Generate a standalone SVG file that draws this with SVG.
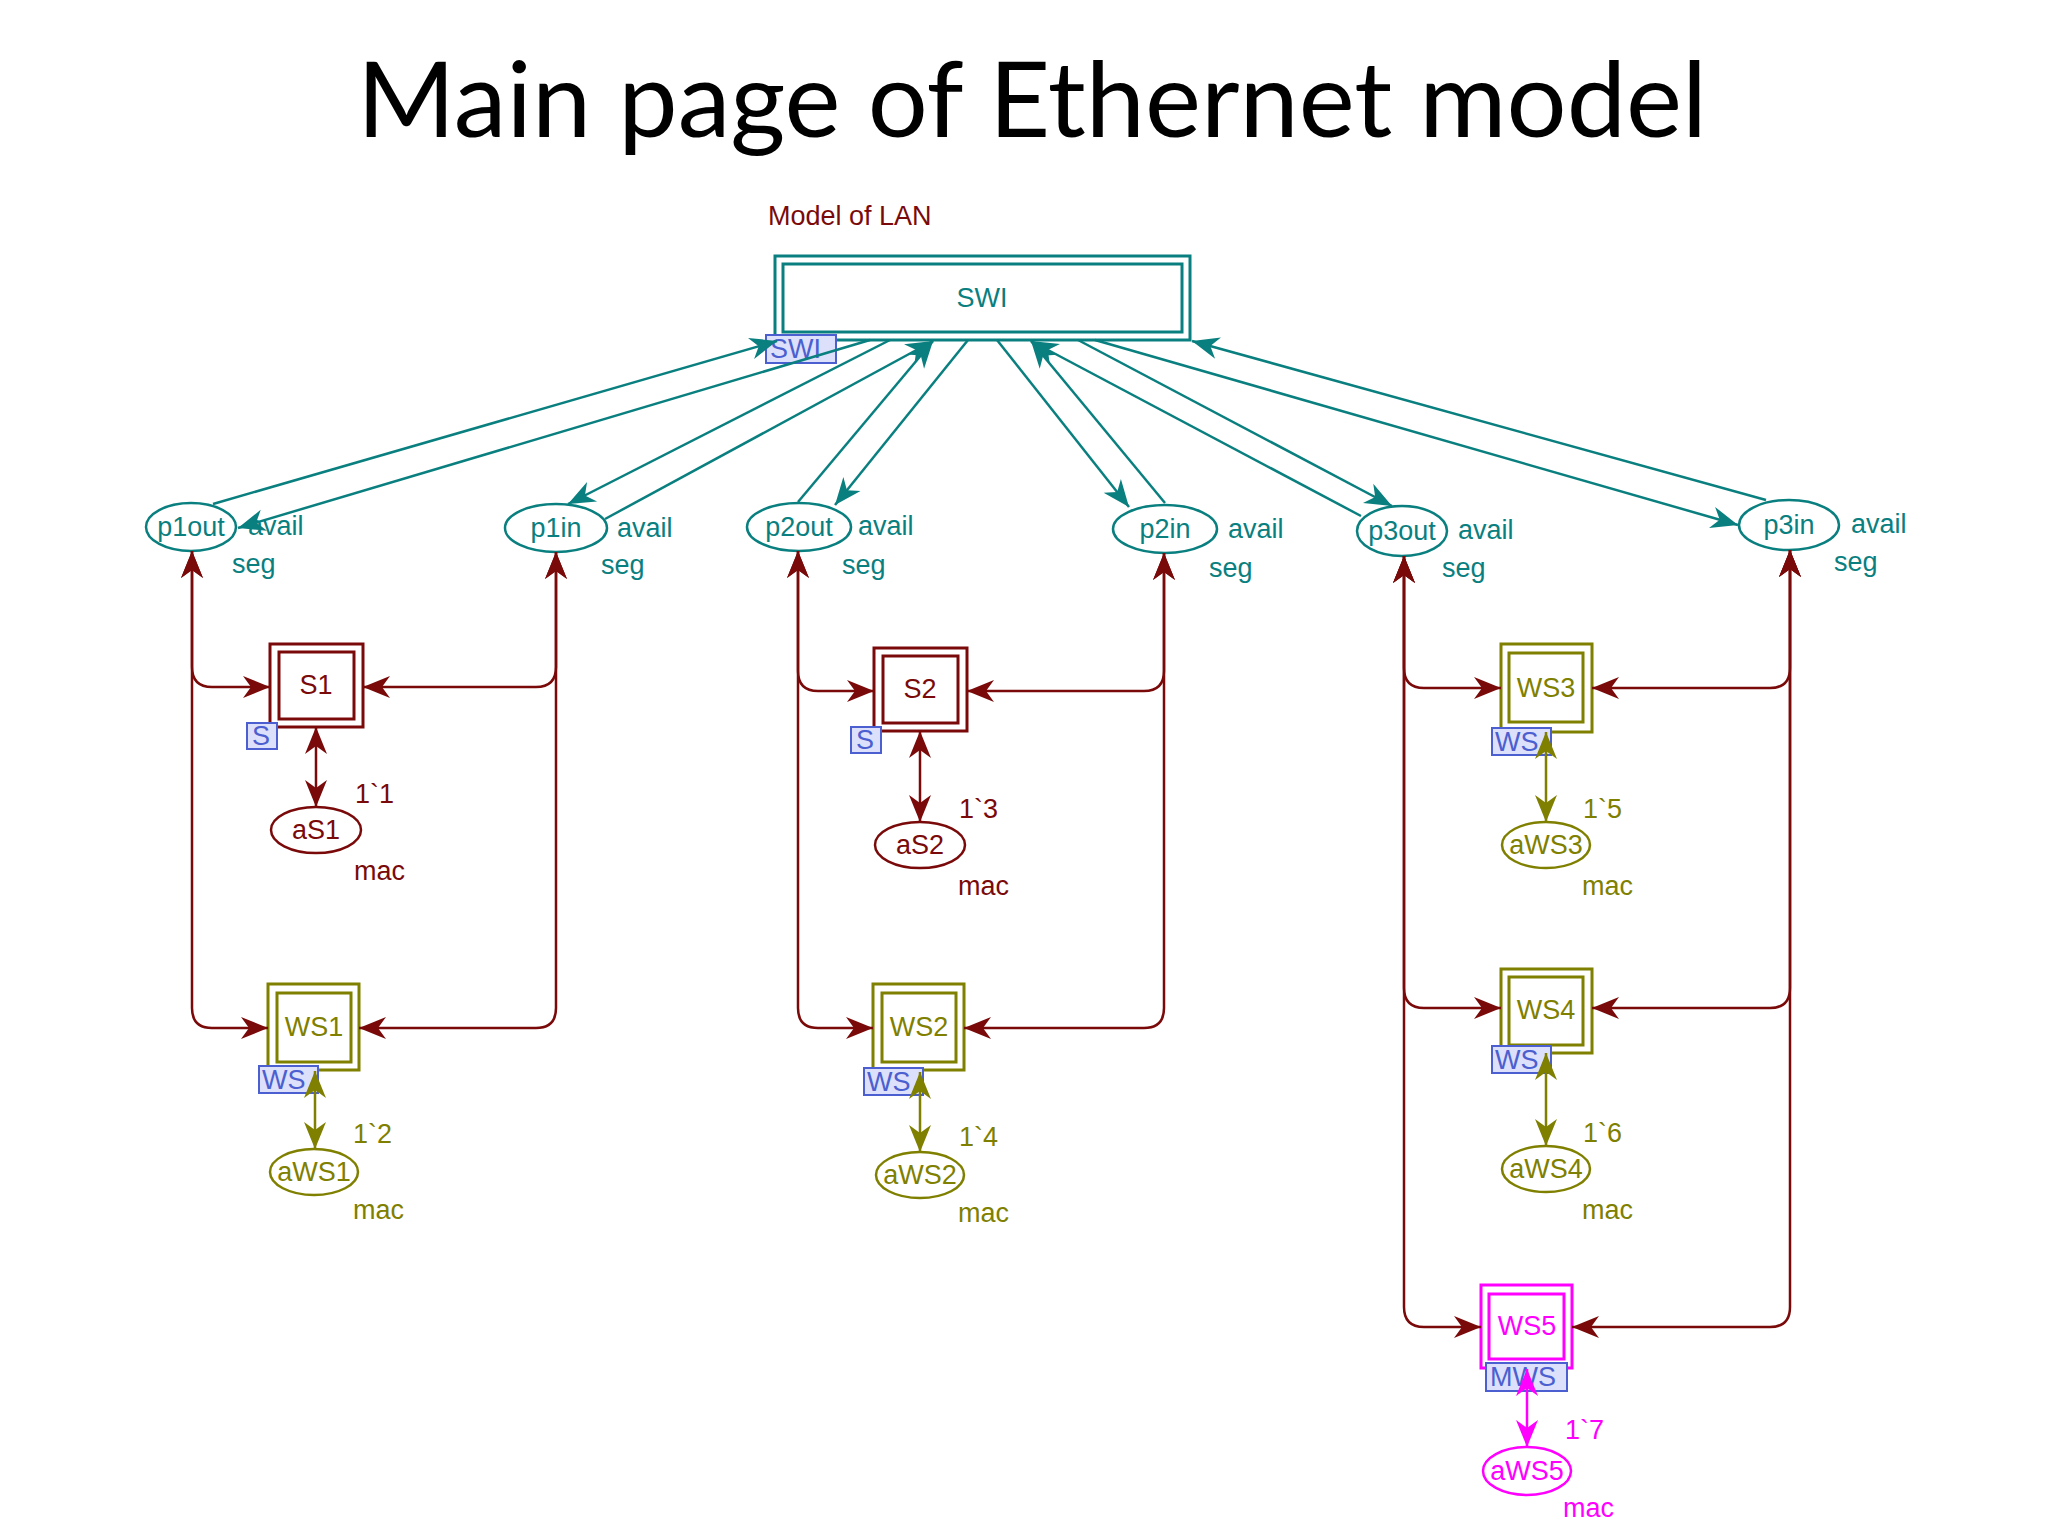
<svg xmlns="http://www.w3.org/2000/svg" width="2048" height="1536" viewBox="0 0 2048 1536">
<style>
text{font-family:"Liberation Sans",Arial,sans-serif;font-size:27px}
.title{font-family:Lato,"Open Sans",sans-serif;font-size:104px;fill:#000}
.tl{fill:#0a7f7f}.rd{fill:#7a0a0a}.ol{fill:#7f7f00}.mg{fill:#ff00ff}
.tag{fill:#dde0fa;stroke:#4b5fd0;stroke-width:2}
.tagt{fill:#4b5fd0}
.ct{text-anchor:middle}
.pl{fill:#fff;stroke:#0a7f7f;stroke-width:2.5}
.bx{fill:none;stroke-width:3}
.ta{fill:none;stroke:#0a7f7f;stroke-width:2.5;marker-end:url(#mt)}
.ra{fill:none;stroke:#7a0a0a;stroke-width:2.5;marker-start:url(#mr);marker-end:url(#mr)}
.oa{fill:none;stroke:#7f7f00;stroke-width:2.5;marker-start:url(#mo);marker-end:url(#mo)}
.ma{fill:none;stroke:#ff00ff;stroke-width:2.5;marker-start:url(#mm);marker-end:url(#mm)}
</style>
<defs>
<marker id="mt" markerUnits="userSpaceOnUse" orient="auto-start-reverse" refX="0" refY="0" markerWidth="30" markerHeight="30" overflow="visible"><path d="M0,0 L-27,-11 L-19,0 L-27,11 Z" fill="#0a7f7f"/></marker>
<marker id="mr" markerUnits="userSpaceOnUse" orient="auto-start-reverse" refX="0" refY="0" markerWidth="30" markerHeight="30" overflow="visible"><path d="M0,0 L-27,-11 L-19,0 L-27,11 Z" fill="#7a0a0a"/></marker>
<marker id="mo" markerUnits="userSpaceOnUse" orient="auto-start-reverse" refX="0" refY="0" markerWidth="30" markerHeight="30" overflow="visible"><path d="M0,0 L-27,-11 L-19,0 L-27,11 Z" fill="#7f7f00"/></marker>
<marker id="mm" markerUnits="userSpaceOnUse" orient="auto-start-reverse" refX="0" refY="0" markerWidth="30" markerHeight="30" overflow="visible"><path d="M0,0 L-27,-11 L-19,0 L-27,11 Z" fill="#ff00ff"/></marker>
</defs>
<rect width="2048" height="1536" fill="#fff"/>
<text class="title" x="1032" y="137" text-anchor="middle" textLength="1350" lengthAdjust="spacingAndGlyphs">Main page of Ethernet model</text>

<g id="SWI">
<text class="rd" x="768" y="225">Model of LAN</text>
<rect class="bx" x="775" y="256" width="415" height="84" stroke="#0a7f7f" fill="#fff"/>
<rect class="bx" x="783" y="264" width="399" height="68" stroke="#0a7f7f"/>
<text class="tl ct" x="982" y="307">SWI</text>
<rect class="tag" x="766" y="335" width="70" height="28"/>
<text class="tagt" x="770" y="358">SWI</text>
</g>

<g id="p1out"><ellipse class="pl" cx="191" cy="527" rx="45" ry="24"/><text class="tl ct" x="191" y="536">p1out</text><text class="tl" x="248" y="535">avail</text><text class="tl" x="232" y="573">seg</text></g>
<g id="p1in"><ellipse class="pl" cx="556" cy="528" rx="51" ry="24"/><text class="tl ct" x="556" y="537">p1in</text><text class="tl" x="617" y="537">avail</text><text class="tl" x="601" y="574">seg</text></g>
<g id="p2out"><ellipse class="pl" cx="799" cy="527" rx="52" ry="24"/><text class="tl ct" x="799" y="536">p2out</text><text class="tl" x="858" y="535">avail</text><text class="tl" x="842" y="574">seg</text></g>
<g id="p2in"><ellipse class="pl" cx="1165" cy="529" rx="52" ry="24"/><text class="tl ct" x="1165" y="538">p2in</text><text class="tl" x="1228" y="538">avail</text><text class="tl" x="1209" y="577">seg</text></g>
<g id="p3out"><ellipse class="pl" cx="1402" cy="531" rx="45" ry="25"/><text class="tl ct" x="1402" y="540">p3out</text><text class="tl" x="1458" y="539">avail</text><text class="tl" x="1442" y="577">seg</text></g>
<g id="p3in"><ellipse class="pl" cx="1789" cy="525" rx="50" ry="25"/><text class="tl ct" x="1789" y="534">p3in</text><text class="tl" x="1851" y="533">avail</text><text class="tl" x="1834" y="571">seg</text></g>

<g id="S1">
<rect class="bx" x="270" y="644" width="93" height="83" stroke="#7a0a0a" fill="#fff"/>
<rect class="bx" x="279" y="652" width="75" height="67" stroke="#7a0a0a"/>
<text class="rd ct" x="316" y="694">S1</text>
<rect class="tag" x="247" y="723" width="30" height="26"/><text class="tagt" x="252" y="745">S</text>
</g>
<g id="aS1"><ellipse cx="316" cy="830" rx="45" ry="23" fill="#fff" stroke="#7a0a0a" stroke-width="2.5"/><text class="rd ct" x="316" y="839">aS1</text><text class="rd" x="355" y="803">1`1</text><text class="rd" x="354" y="880">mac</text></g>

<g id="WS1">
<rect class="bx" x="268" y="984" width="91" height="86" stroke="#7f7f00" fill="#fff"/>
<rect class="bx" x="277" y="993" width="74" height="69" stroke="#7f7f00"/>
<text class="ol ct" x="314" y="1036">WS1</text>
<rect class="tag" x="259" y="1066" width="59" height="27"/><text class="tagt" x="262" y="1089">WS</text>
</g>
<g id="aWS1"><ellipse cx="314" cy="1172" rx="44" ry="23" fill="#fff" stroke="#7f7f00" stroke-width="2.5"/><text class="ol ct" x="314" y="1181">aWS1</text><text class="ol" x="353" y="1143">1`2</text><text class="ol" x="353" y="1219">mac</text></g>

<g id="S2">
<rect class="bx" x="874" y="648" width="93" height="83" stroke="#7a0a0a" fill="#fff"/>
<rect class="bx" x="883" y="656" width="75" height="67" stroke="#7a0a0a"/>
<text class="rd ct" x="920" y="698">S2</text>
<rect class="tag" x="851" y="727" width="30" height="26"/><text class="tagt" x="856" y="749">S</text>
</g>
<g id="aS2"><ellipse cx="920" cy="845" rx="45" ry="23" fill="#fff" stroke="#7a0a0a" stroke-width="2.5"/><text class="rd ct" x="920" y="854">aS2</text><text class="rd" x="959" y="818">1`3</text><text class="rd" x="958" y="895">mac</text></g>

<g id="WS2">
<rect class="bx" x="873" y="984" width="91" height="86" stroke="#7f7f00" fill="#fff"/>
<rect class="bx" x="882" y="993" width="74" height="69" stroke="#7f7f00"/>
<text class="ol ct" x="919" y="1036">WS2</text>
<rect class="tag" x="864" y="1068" width="59" height="27"/><text class="tagt" x="867" y="1091">WS</text>
</g>
<g id="aWS2"><ellipse cx="920" cy="1175" rx="44" ry="23" fill="#fff" stroke="#7f7f00" stroke-width="2.5"/><text class="ol ct" x="920" y="1184">aWS2</text><text class="ol" x="959" y="1146">1`4</text><text class="ol" x="958" y="1222">mac</text></g>

<g id="WS3">
<rect class="bx" x="1501" y="644" width="91" height="88" stroke="#7f7f00" fill="#fff"/>
<rect class="bx" x="1509" y="653" width="74" height="69" stroke="#7f7f00"/>
<text class="ol ct" x="1546" y="697">WS3</text>
<rect class="tag" x="1492" y="728" width="59" height="27"/><text class="tagt" x="1495" y="751">WS</text>
</g>
<g id="aWS3"><ellipse cx="1546" cy="845" rx="44" ry="23" fill="#fff" stroke="#7f7f00" stroke-width="2.5"/><text class="ol ct" x="1546" y="854">aWS3</text><text class="ol" x="1583" y="818">1`5</text><text class="ol" x="1582" y="895">mac</text></g>

<g id="WS4">
<rect class="bx" x="1501" y="969" width="91" height="84" stroke="#7f7f00" fill="#fff"/>
<rect class="bx" x="1509" y="977" width="74" height="68" stroke="#7f7f00"/>
<text class="ol ct" x="1546" y="1019">WS4</text>
<rect class="tag" x="1492" y="1046" width="59" height="27"/><text class="tagt" x="1495" y="1069">WS</text>
</g>
<g id="aWS4"><ellipse cx="1546" cy="1169" rx="44" ry="23" fill="#fff" stroke="#7f7f00" stroke-width="2.5"/><text class="ol ct" x="1546" y="1178">aWS4</text><text class="ol" x="1583" y="1142">1`6</text><text class="ol" x="1582" y="1219">mac</text></g>

<g id="WS5">
<rect class="bx" x="1481" y="1285" width="91" height="83" stroke="#ff00ff" fill="#fff"/>
<rect class="bx" x="1489" y="1294" width="75" height="65" stroke="#ff00ff"/>
<text class="mg ct" x="1527" y="1335">WS5</text>
<rect class="tag" x="1486" y="1363" width="81" height="28"/><text class="tagt" x="1490" y="1386">MWS</text>
</g>
<g id="aWS5"><ellipse cx="1527" cy="1471" rx="44" ry="24" fill="#fff" stroke="#ff00ff" stroke-width="2.5"/><text class="mg ct" x="1527" y="1480">aWS5</text><text class="mg" x="1565" y="1439">1`7</text><text class="mg" x="1563" y="1517">mac</text></g>

<g id="connectors">
<path class="ta" d="M213,504 L777,341"/>
<path class="ta" d="M870,340 L238,528"/>
<path class="ta" d="M890,340 L568,504"/>
<path class="ta" d="M605,519 L933,341"/>
<path class="ta" d="M798,502 L933,341"/>
<path class="ta" d="M968,340 L835,505"/>
<path class="ta" d="M997,340 L1129,507"/>
<path class="ta" d="M1165,503 L1031,341"/>
<path class="ta" d="M1361,516 L1031,341"/>
<path class="ta" d="M1078,340 L1392,506"/>
<path class="ta" d="M1095,340 L1738,525"/>
<path class="ta" d="M1766,500 L1192,341"/>
<path class="ra" d="M192,551 L192,667 Q192,687 212,687 L270,687"/>
<path class="ra" d="M192,551 L192,1008 Q192,1028 212,1028 L268,1028"/>
<path class="ra" d="M556,552 L556,667 Q556,687 536,687 L363,687"/>
<path class="ra" d="M556,552 L556,1008 Q556,1028 536,1028 L359,1028"/>
<path class="ra" d="M316,727 L316,807"/>
<path class="oa" d="M315,1071 L315,1149"/>
<path class="ra" d="M798,551 L798,671 Q798,691 818,691 L874,691"/>
<path class="ra" d="M798,551 L798,1008 Q798,1028 818,1028 L873,1028"/>
<path class="ra" d="M1164,553 L1164,671 Q1164,691 1144,691 L967,691"/>
<path class="ra" d="M1164,553 L1164,1008 Q1164,1028 1144,1028 L964,1028"/>
<path class="ra" d="M920,731 L920,822"/>
<path class="oa" d="M920,1072 L920,1152"/>
<path class="ra" d="M1404,556 L1404,668 Q1404,688 1424,688 L1501,688"/>
<path class="ra" d="M1404,556 L1404,988 Q1404,1008 1424,1008 L1501,1008"/>
<path class="ra" d="M1404,556 L1404,1307 Q1404,1327 1424,1327 L1481,1327"/>
<path class="ra" d="M1790,550 L1790,668 Q1790,688 1770,688 L1592,688"/>
<path class="ra" d="M1790,550 L1790,988 Q1790,1008 1770,1008 L1592,1008"/>
<path class="ra" d="M1790,550 L1790,1307 Q1790,1327 1770,1327 L1572,1327"/>
<path class="oa" d="M1546,732 L1546,822"/>
<path class="oa" d="M1546,1053 L1546,1146"/>
<path class="ma" d="M1527,1369 L1527,1447"/>
</g>
</svg>
